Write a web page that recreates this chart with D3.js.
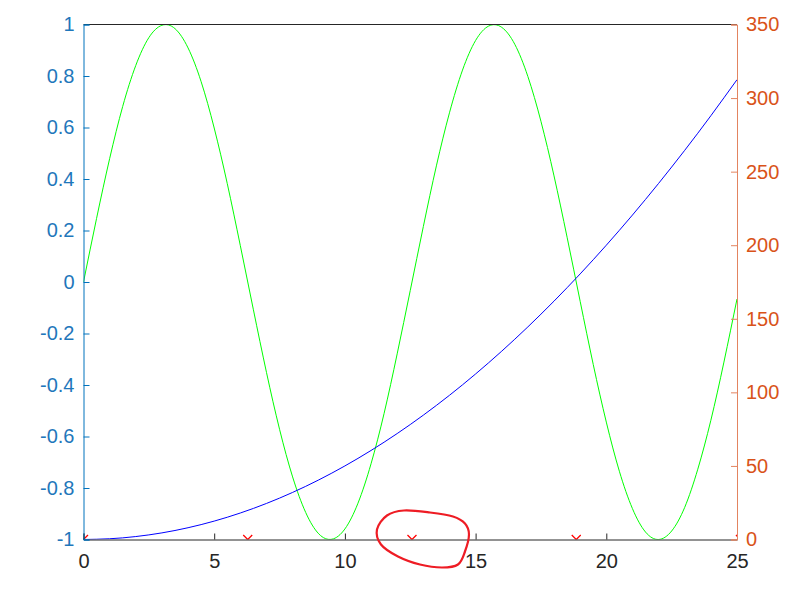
<!DOCTYPE html>
<html>
<head>
<meta charset="utf-8">
<script src="https://cdn.jsdelivr.net/npm/d3@7"></script>
<style>
  html, body { margin: 0; padding: 0; background: #fff; }
  svg { display: block; }
</style>
</head>
<body>
<svg id="chart"></svg>
<script>
const width = 800;
const height = 599;
const margin = { top: 24.5, right: 63, bottom: 59.5, left: 83.5 };
const font = "'Liberation Sans', Arial, sans-serif";
const fontSize = 20;

// green curve, left axis (sampled every 0.5)
const greenX = d3.range(0, 25.01, 0.5);
const greenY = [
    0, 0.247, 0.479, 0.682, 0.841, 0.949, 0.997, 0.984, 0.909, 0.778,
    0.598, 0.382, 0.141, -0.108, -0.351, -0.572, -0.757, -0.895, -0.978, -0.999,
    -0.959, -0.859, -0.706, -0.510, -0.279, -0.033, 0.215, 0.451, 0.657, 0.823,
    0.938, 0.994, 0.989, 0.923, 0.798, 0.624, 0.412, 0.174, -0.075, -0.320,
    -0.544, -0.735, -0.880, -0.971, -1.000, -0.967, -0.875, -0.727, -0.537, -0.311,
    -0.066
];

// blue curve, right axis (sampled every 1)
const blueX = d3.range(0, 25.01, 1);
const blueY = [
    0, 0.5, 2, 4.5, 8, 12.5, 18, 24.5, 32, 40.5, 50, 60.5, 72, 84.5, 98,
    112.5, 128, 144.5, 162, 180.5, 200, 220.5, 242, 264.5, 288, 312.5
];

// red x markers, right axis
const markerX = [0, 6.283, 12.566, 18.850, 25.133];
const markerY = [0, 0, 0, 0, 0];

const xTicks = [0, 5, 10, 15, 20, 25];
const leftTicks = [-1, -0.8, -0.6, -0.4, -0.2, 0, 0.2, 0.4, 0.6, 0.8, 1];
const rightTicks = [0, 50, 100, 150, 200, 250, 300, 350];

const blueAxis = "#0072BD";
const orangeAxis = "#D95319";
const dark = "#262626";

const svg = d3.select("#chart")
    .attr("width", width)
    .attr("height", height);

const x = d3.scaleLinear().domain([0, 25]).range([margin.left, width - margin.right]);
const yL = d3.scaleLinear().domain([-1, 1]).range([height - margin.bottom, margin.top]);
const yR = d3.scaleLinear().domain([0, 350]).range([height - margin.bottom, margin.top]);

svg.append("clipPath").attr("id", "plot-clip")
    .append("rect")
    .attr("x", x(0)).attr("y", yL(1))
    .attr("width", x(25) - x(0)).attr("height", yL(-1) - yL(1));

const plot = svg.append("g").attr("clip-path", "url(#plot-clip)");

// Draw lines
plot.append("path")
    .datum(greenX.map((d, i) => [d, greenY[i]]))
    .attr("fill", "none")
    .attr("stroke", "#00ff00")
    .attr("stroke-width", 1)
    .attr("d", d3.line().x(d => x(d[0])).y(d => yL(d[1])).curve(d3.curveNatural));

plot.append("path")
    .datum(blueX.map((d, i) => [d, blueY[i]]))
    .attr("fill", "none")
    .attr("stroke", "#0000ff")
    .attr("stroke-width", 1)
    .attr("d", d3.line().x(d => x(d[0])).y(d => yR(d[1])).curve(d3.curveNatural));

// x markers
plot.selectAll(".marker")
    .data(markerX.map((d, i) => [d, markerY[i]]))
    .join("path")
    .attr("class", "marker")
    .attr("transform", d => `translate(${x(d[0])},${yR(d[1])})`)
    .attr("d", "M-4.5,-4.5L4.5,4.5M-4.5,4.5L4.5,-4.5")
    .attr("stroke", "#ff0000")
    .attr("stroke-width", 1.3)
    .attr("fill", "none");

// MATLAB-style numbers: plain hyphen for minus
const num = d => String(+(+d).toFixed(1));

// Axes
const xAxis = svg.append("g")
    .attr("transform", `translate(0,${yL(-1)})`)
    .call(d3.axisBottom(x).tickValues(xTicks).tickSize(-6).tickPadding(14).tickFormat(num));
xAxis.attr("font-family", font).attr("font-size", fontSize);
xAxis.select(".domain").attr("stroke", dark);
xAxis.selectAll(".tick line").attr("stroke", dark);
xAxis.selectAll(".tick text").attr("fill", dark);

svg.append("line")
    .attr("x1", x(0)).attr("x2", x(25))
    .attr("y1", yL(1)).attr("y2", yL(1))
    .attr("stroke", dark);

const leftAxis = svg.append("g")
    .attr("transform", `translate(${x(0)},0)`)
    .call(d3.axisLeft(yL).tickValues(leftTicks).tickSize(-6).tickPadding(9).tickFormat(num));
leftAxis.attr("font-family", font).attr("font-size", fontSize);
leftAxis.select(".domain").attr("stroke", blueAxis);
leftAxis.selectAll(".tick line").attr("stroke", blueAxis);
leftAxis.selectAll(".tick text").attr("fill", "#1f77bb");

const rightAxis = svg.append("g")
    .attr("transform", `translate(${x(25)},0)`)
    .call(d3.axisRight(yR).tickValues(rightTicks).tickSize(-6).tickPadding(9).tickFormat(num));
rightAxis.attr("font-family", font).attr("font-size", fontSize);
rightAxis.select(".domain").attr("stroke", "#e38460");
rightAxis.selectAll(".tick line").attr("stroke", "#e38460");
rightAxis.selectAll(".tick text").attr("fill", orangeAxis);

// hand-drawn circle around the middle marker
const cx = x(markerX[2]);
const cy = yR(markerY[2]);
const loop = [[-35, -10], [-25, -24], [-8, -29], [18, -27], [41, -23], [53, -16], [57, -5],
    [53, 12], [46, 25], [30, 28], [8, 25], [-14, 17], [-31, 5]];
svg.append("path")
    .datum(loop)
    .attr("fill", "none")
    .attr("stroke", "#ee1c24")
    .attr("stroke-width", 2.2)
    .attr("d", d3.line().x(d => cx + d[0]).y(d => cy + d[1]).curve(d3.curveCardinalClosed));
</script>
</body>
</html>
